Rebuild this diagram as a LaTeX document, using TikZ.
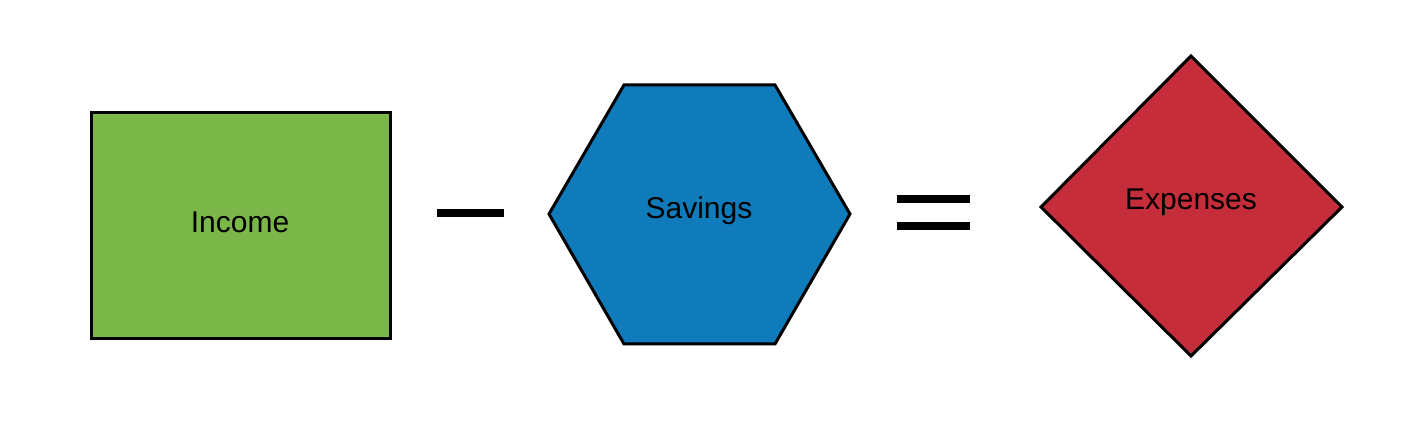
\documentclass[tikz,border=0pt]{standalone}
\usepackage{fontspec}
\setmainfont{Liberation Sans}
\definecolor{cgreen}{HTML}{7AB648}
\definecolor{cblue}{HTML}{0F7BBA}
\definecolor{cred}{HTML}{C62D3A}
\begin{document}
\begin{tikzpicture}[x=0.5pt,y=-0.5pt,
  shp/.style={draw=black,line width=1.5pt,line join=miter},
  lbl/.style={font=\fontsize{15}{18}\selectfont,text=black},
  op/.style={line width=4pt}]
\useasboundingbox (0,0) rectangle (1428,432);
\fill[white] (0,0) rectangle (1428,432);
\draw[shp,fill=cgreen] (91,113) rectangle (390,339);
\draw[shp,fill=cblue] (549,214) -- (624,85) -- (775,85) -- (850,214) -- (775,344) -- (624,344) -- cycle;
\draw[shp,fill=cred] (1041,207) -- (1191,56) -- (1342,207) -- (1191,356) -- cycle;
\node[lbl] (inc) at (240,222) {Income};
\node[lbl] (sav) at (699,211) {Savings};
\node[lbl] (exp) at (1191,202) {Expenses};
\draw[op] (437,213) -- (504,213);
\draw[op] (897,199) -- (970,199);
\draw[op] (897,226) -- (970,226);
\end{tikzpicture}
\end{document}
